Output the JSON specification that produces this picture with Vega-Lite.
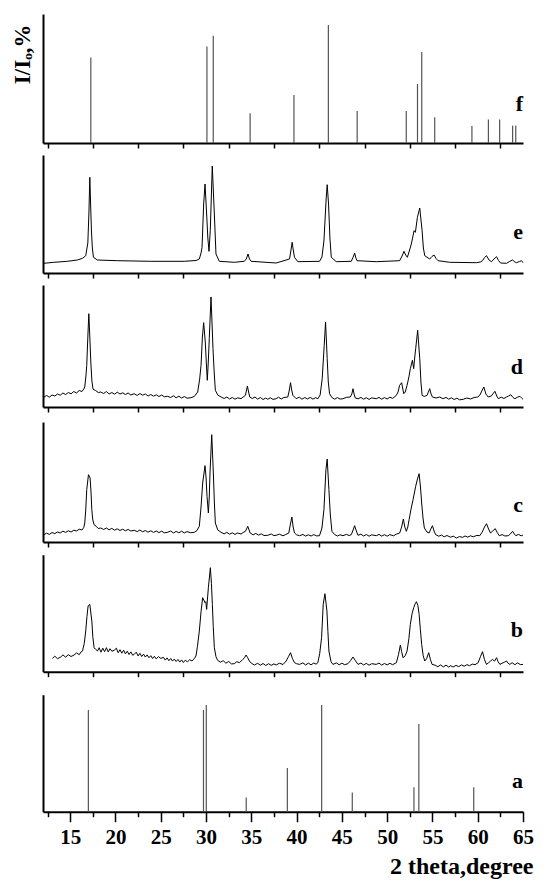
{
  "$schema": "https://vega.github.io/schema/vega-lite/v6.json",
  "padding": {"left": 11, "top": 14, "right": 5, "bottom": 5},
  "config": {
    "view": {"stroke": null},
    "axis": {"domainColor": "black", "domainWidth": 2, "grid": false},
    "axisY": {"ticks": false, "labels": false, "titleFont": "Liberation Serif", "titleFontSize": 23, "titleFontWeight": "bold", "titleColor": "black",
              "titleAngle": 270, "titleAlign": "right", "titleBaseline": "alphabetic", "titleX": -14, "titleY": 10, "titleOpacity": 0},
    "text": {"font": "Liberation Serif", "fontSize": 22, "fontWeight": "bold", "align": "right", "baseline": "alphabetic", "color": "black"}
  },
  "datasets": {
    "f": [
      {"theta": 17.28, "I": 85.4}, {"theta": 30.1, "I": 96.5}, {"theta": 30.8, "I": 107.2},
      {"theta": 34.87, "I": 29.8}, {"theta": 39.71, "I": 47.9}, {"theta": 43.51, "I": 117.9},
      {"theta": 46.69, "I": 32.1}, {"theta": 52.11, "I": 32.1}, {"theta": 53.35, "I": 59},
      {"theta": 53.82, "I": 91.1}, {"theta": 55.25, "I": 25.8}, {"theta": 59.36, "I": 17},
      {"theta": 61.18, "I": 23.5}, {"theta": 62.42, "I": 23.5}, {"theta": 63.85, "I": 17.4},
      {"theta": 64.2, "I": 17.4}
    ],
    "a": [
      {"theta": 17.01, "I": 101.7}, {"theta": 29.72, "I": 101.7}, {"theta": 30.03, "I": 106.7},
      {"theta": 34.44, "I": 14.3}, {"theta": 38.98, "I": 43.7}, {"theta": 42.77, "I": 106.7},
      {"theta": 46.15, "I": 19.3}, {"theta": 52.96, "I": 24.4}, {"theta": 53.5, "I": 87.7},
      {"theta": 59.56, "I": 24.4}
    ],
    "e": [
      {"theta": 12.1, "I": 9.7}, {"theta": 13.2, "I": 10.7}, {"theta": 14.7, "I": 11.7}, {"theta": 15.8, "I": 13},
      {"theta": 16.36, "I": 14.7}, {"theta": 16.72, "I": 17.3}, {"theta": 16.95, "I": 30}, {"theta": 17.07, "I": 60},
      {"theta": 17.17, "I": 95.7}, {"theta": 17.27, "I": 65}, {"theta": 17.35, "I": 42}, {"theta": 17.45, "I": 25},
      {"theta": 17.57, "I": 15.7}, {"theta": 18.0, "I": 13}, {"theta": 20.2, "I": 12.3}, {"theta": 23.9, "I": 11.7},
      {"theta": 27.6, "I": 11.7}, {"theta": 28.9, "I": 12.5}, {"theta": 29.26, "I": 14}, {"theta": 29.45, "I": 20},
      {"theta": 29.56, "I": 25.7}, {"theta": 29.74, "I": 69}, {"theta": 29.89, "I": 89}, {"theta": 30.07, "I": 59},
      {"theta": 30.2, "I": 35}, {"theta": 30.33, "I": 21.7}, {"theta": 30.47, "I": 42.3}, {"theta": 30.69, "I": 107},
      {"theta": 30.92, "I": 59}, {"theta": 31.1, "I": 19}, {"theta": 31.47, "I": 11.7}, {"theta": 33.13, "I": 10.7},
      {"theta": 34.23, "I": 11.7}, {"theta": 34.45, "I": 14}, {"theta": 34.64, "I": 19}, {"theta": 34.8, "I": 14},
      {"theta": 34.98, "I": 11.7}, {"theta": 37.74, "I": 10}, {"theta": 39.22, "I": 14}, {"theta": 39.4, "I": 24},
      {"theta": 39.51, "I": 30.7}, {"theta": 39.65, "I": 22}, {"theta": 39.77, "I": 15.7}, {"theta": 40.14, "I": 11.3},
      {"theta": 42.53, "I": 11.7}, {"theta": 42.8, "I": 16}, {"theta": 43.02, "I": 32}, {"theta": 43.27, "I": 75},
      {"theta": 43.38, "I": 88.3}, {"theta": 43.53, "I": 69}, {"theta": 43.68, "I": 35}, {"theta": 43.83, "I": 15.7},
      {"theta": 44.38, "I": 11.3}, {"theta": 46.04, "I": 11.7}, {"theta": 46.25, "I": 16}, {"theta": 46.41, "I": 20},
      {"theta": 46.55, "I": 15}, {"theta": 46.67, "I": 12.3}, {"theta": 48.8, "I": 11.3}, {"theta": 51.38, "I": 12.3},
      {"theta": 51.65, "I": 17}, {"theta": 51.86, "I": 21.7}, {"theta": 52.05, "I": 18}, {"theta": 52.23, "I": 15.7},
      {"theta": 52.45, "I": 22}, {"theta": 52.67, "I": 29}, {"theta": 52.97, "I": 42.3}, {"theta": 53.12, "I": 40.7},
      {"theta": 53.34, "I": 55.7}, {"theta": 53.6, "I": 65}, {"theta": 53.86, "I": 42.3}, {"theta": 54.0, "I": 25},
      {"theta": 54.15, "I": 17.3}, {"theta": 54.7, "I": 14}, {"theta": 54.95, "I": 16.5}, {"theta": 55.18, "I": 18},
      {"theta": 55.4, "I": 14.5}, {"theta": 55.62, "I": 12.3}, {"theta": 56.91, "I": 10.7}, {"theta": 59.86, "I": 10.3},
      {"theta": 60.3, "I": 11}, {"theta": 60.53, "I": 12.3}, {"theta": 60.75, "I": 15.5}, {"theta": 60.97, "I": 17.3},
      {"theta": 61.25, "I": 13}, {"theta": 61.52, "I": 11.3}, {"theta": 61.8, "I": 14}, {"theta": 62.08, "I": 16.3},
      {"theta": 62.3, "I": 12.5}, {"theta": 62.52, "I": 10}, {"theta": 63.18, "I": 9.7}, {"theta": 63.5, "I": 11.5},
      {"theta": 63.85, "I": 13}, {"theta": 64.1, "I": 11}, {"theta": 64.29, "I": 10.3}, {"theta": 64.6, "I": 11.5},
      {"theta": 64.84, "I": 12.3}, {"theta": 65.0, "I": 10.3}
    ],
    "d": [
      {"theta": 12.1, "I": 10}, {"theta": 12.4, "I": 11.5}, {"theta": 12.7, "I": 9.8}, {"theta": 13.0, "I": 12},
      {"theta": 13.3, "I": 11}, {"theta": 13.6, "I": 13}, {"theta": 13.9, "I": 11.8}, {"theta": 14.2, "I": 14},
      {"theta": 14.5, "I": 12.5}, {"theta": 14.8, "I": 14.5}, {"theta": 15.1, "I": 13.2}, {"theta": 15.4, "I": 15.5},
      {"theta": 15.7, "I": 14}, {"theta": 16.0, "I": 16.5}, {"theta": 16.3, "I": 15.5}, {"theta": 16.5, "I": 18},
      {"theta": 16.61, "I": 20}, {"theta": 16.75, "I": 32}, {"theta": 16.83, "I": 41.7}, {"theta": 16.95, "I": 70},
      {"theta": 17.06, "I": 93.3}, {"theta": 17.17, "I": 70}, {"theta": 17.28, "I": 45}, {"theta": 17.4, "I": 26},
      {"theta": 17.53, "I": 17.7}, {"theta": 17.8, "I": 16.5}, {"theta": 18.1, "I": 14.5}, {"theta": 18.38, "I": 15},
      {"theta": 18.7, "I": 13.5}, {"theta": 19.0, "I": 15.5}, {"theta": 19.3, "I": 13}, {"theta": 19.6, "I": 14.5},
      {"theta": 19.9, "I": 12.8}, {"theta": 20.2, "I": 14.8}, {"theta": 20.5, "I": 13}, {"theta": 20.8, "I": 14.2},
      {"theta": 21.1, "I": 12.5}, {"theta": 21.4, "I": 14}, {"theta": 21.7, "I": 12}, {"theta": 22.07, "I": 13.3},
      {"theta": 22.4, "I": 11.5}, {"theta": 22.7, "I": 13.5}, {"theta": 23.0, "I": 11.8}, {"theta": 23.3, "I": 13},
      {"theta": 23.6, "I": 11}, {"theta": 23.9, "I": 12.5}, {"theta": 24.2, "I": 10.8}, {"theta": 24.5, "I": 12.2},
      {"theta": 24.8, "I": 10.5}, {"theta": 25.1, "I": 12}, {"theta": 25.4, "I": 10.2}, {"theta": 25.76, "I": 10.7},
      {"theta": 26.1, "I": 9.5}, {"theta": 26.4, "I": 11.2}, {"theta": 26.7, "I": 9.2}, {"theta": 27.0, "I": 10.8},
      {"theta": 27.3, "I": 9}, {"theta": 27.6, "I": 10.5}, {"theta": 27.9, "I": 8.8}, {"theta": 28.34, "I": 9.3},
      {"theta": 28.7, "I": 10.5}, {"theta": 29.08, "I": 15}, {"theta": 29.3, "I": 28}, {"theta": 29.45, "I": 41.7},
      {"theta": 29.6, "I": 70}, {"theta": 29.74, "I": 84.3}, {"theta": 29.92, "I": 65}, {"theta": 30.03, "I": 45},
      {"theta": 30.14, "I": 26.7}, {"theta": 30.25, "I": 45}, {"theta": 30.36, "I": 68.3}, {"theta": 30.55, "I": 110},
      {"theta": 30.66, "I": 85}, {"theta": 30.77, "I": 58.3}, {"theta": 30.9, "I": 35}, {"theta": 31.03, "I": 16.7},
      {"theta": 31.3, "I": 12}, {"theta": 31.66, "I": 10}, {"theta": 32.0, "I": 8.5}, {"theta": 32.3, "I": 10},
      {"theta": 32.6, "I": 8}, {"theta": 32.9, "I": 9.5}, {"theta": 33.2, "I": 7.8}, {"theta": 33.5, "I": 9.2},
      {"theta": 33.87, "I": 8.3}, {"theta": 34.1, "I": 10}, {"theta": 34.35, "I": 11.7}, {"theta": 34.57, "I": 21},
      {"theta": 34.7, "I": 15}, {"theta": 34.83, "I": 10}, {"theta": 35.1, "I": 8.5}, {"theta": 35.4, "I": 10},
      {"theta": 35.7, "I": 7.8}, {"theta": 36.0, "I": 9.5}, {"theta": 36.3, "I": 7.5}, {"theta": 36.6, "I": 9},
      {"theta": 36.82, "I": 7.7}, {"theta": 37.1, "I": 9.2}, {"theta": 37.4, "I": 7.6}, {"theta": 37.74, "I": 8.3},
      {"theta": 38.0, "I": 9.8}, {"theta": 38.3, "I": 8}, {"theta": 38.6, "I": 9.5}, {"theta": 39.03, "I": 10},
      {"theta": 39.18, "I": 16}, {"theta": 39.33, "I": 24.3}, {"theta": 39.46, "I": 17}, {"theta": 39.59, "I": 11.7},
      {"theta": 39.95, "I": 8.3}, {"theta": 40.3, "I": 9.8}, {"theta": 40.6, "I": 7.8}, {"theta": 40.9, "I": 9.5},
      {"theta": 41.2, "I": 8}, {"theta": 41.5, "I": 9.6}, {"theta": 41.8, "I": 7.9}, {"theta": 42.1, "I": 9.3},
      {"theta": 42.35, "I": 8.3}, {"theta": 42.6, "I": 12}, {"theta": 42.83, "I": 28.3}, {"theta": 43.05, "I": 61.7},
      {"theta": 43.2, "I": 85}, {"theta": 43.38, "I": 48.3}, {"theta": 43.5, "I": 25}, {"theta": 43.64, "I": 13.3},
      {"theta": 43.9, "I": 9.5}, {"theta": 44.2, "I": 7.8}, {"theta": 44.5, "I": 9.4}, {"theta": 44.8, "I": 7.9},
      {"theta": 45.12, "I": 8.3}, {"theta": 45.5, "I": 9.6}, {"theta": 45.93, "I": 10}, {"theta": 46.1, "I": 13},
      {"theta": 46.23, "I": 18.3}, {"theta": 46.35, "I": 13}, {"theta": 46.48, "I": 9}, {"theta": 46.8, "I": 8.2},
      {"theta": 47.1, "I": 9.6}, {"theta": 47.4, "I": 7.8}, {"theta": 47.7, "I": 9.3}, {"theta": 48.0, "I": 7.6},
      {"theta": 48.3, "I": 9.1}, {"theta": 48.8, "I": 8.3}, {"theta": 49.1, "I": 9.6}, {"theta": 49.4, "I": 7.8},
      {"theta": 49.7, "I": 9.4}, {"theta": 50.0, "I": 8}, {"theta": 50.3, "I": 9.8}, {"theta": 50.6, "I": 8.6},
      {"theta": 51.02, "I": 11.7}, {"theta": 51.2, "I": 15}, {"theta": 51.38, "I": 21.7}, {"theta": 51.6, "I": 24.3},
      {"theta": 51.83, "I": 13.3}, {"theta": 52.0, "I": 15}, {"theta": 52.2, "I": 21.7}, {"theta": 52.4, "I": 30},
      {"theta": 52.56, "I": 38.3}, {"theta": 52.79, "I": 46.7}, {"theta": 52.93, "I": 38.3}, {"theta": 53.05, "I": 50},
      {"theta": 53.15, "I": 58.3}, {"theta": 53.37, "I": 76.7}, {"theta": 53.6, "I": 48.3}, {"theta": 53.73, "I": 25},
      {"theta": 53.86, "I": 11.7}, {"theta": 54.1, "I": 10.5}, {"theta": 54.41, "I": 11.7}, {"theta": 54.55, "I": 15},
      {"theta": 54.7, "I": 18.3}, {"theta": 54.85, "I": 13}, {"theta": 55.0, "I": 10}, {"theta": 55.4, "I": 9},
      {"theta": 55.8, "I": 10}, {"theta": 56.18, "I": 8.3}, {"theta": 56.5, "I": 9.6}, {"theta": 56.8, "I": 7.8},
      {"theta": 57.1, "I": 9.2}, {"theta": 57.4, "I": 7.5}, {"theta": 57.7, "I": 8.8}, {"theta": 58.0, "I": 7.2},
      {"theta": 58.4, "I": 7.7}, {"theta": 58.8, "I": 9}, {"theta": 59.2, "I": 8}, {"theta": 59.6, "I": 9.5},
      {"theta": 60.0, "I": 10}, {"theta": 60.23, "I": 11.7}, {"theta": 60.45, "I": 16}, {"theta": 60.68, "I": 20},
      {"theta": 60.9, "I": 13}, {"theta": 61.16, "I": 10}, {"theta": 61.5, "I": 11}, {"theta": 61.75, "I": 14},
      {"theta": 61.9, "I": 15.7}, {"theta": 62.1, "I": 11}, {"theta": 62.27, "I": 8.3}, {"theta": 62.6, "I": 9.8},
      {"theta": 62.9, "I": 8.5}, {"theta": 63.18, "I": 10}, {"theta": 63.4, "I": 11}, {"theta": 63.66, "I": 12.3},
      {"theta": 63.9, "I": 9.5}, {"theta": 64.1, "I": 8.3}, {"theta": 64.4, "I": 9.8}, {"theta": 64.66, "I": 10.7},
      {"theta": 64.9, "I": 8.5}, {"theta": 65.0, "I": 7.7}
    ],
    "c": [
      {"theta": 12.1, "I": 7.3}, {"theta": 12.4, "I": 8.8}, {"theta": 12.7, "I": 7.6}, {"theta": 13.0, "I": 9.5},
      {"theta": 13.3, "I": 8.4}, {"theta": 13.6, "I": 10}, {"theta": 13.9, "I": 9}, {"theta": 14.2, "I": 10.8},
      {"theta": 14.5, "I": 9.6}, {"theta": 14.8, "I": 11.2}, {"theta": 15.1, "I": 10}, {"theta": 15.4, "I": 11.8},
      {"theta": 15.7, "I": 11}, {"theta": 16.0, "I": 12.8}, {"theta": 16.3, "I": 12}, {"theta": 16.5, "I": 14.5},
      {"theta": 16.61, "I": 19}, {"theta": 16.72, "I": 32}, {"theta": 16.83, "I": 52.3}, {"theta": 17.02, "I": 67.3},
      {"theta": 17.2, "I": 64}, {"theta": 17.3, "I": 50}, {"theta": 17.39, "I": 32.3}, {"theta": 17.5, "I": 22},
      {"theta": 17.64, "I": 17.3}, {"theta": 17.9, "I": 15.5}, {"theta": 18.1, "I": 13.5}, {"theta": 18.38, "I": 14},
      {"theta": 18.7, "I": 12.5}, {"theta": 19.0, "I": 14}, {"theta": 19.3, "I": 12.2}, {"theta": 19.6, "I": 13.6},
      {"theta": 19.9, "I": 11.8}, {"theta": 20.2, "I": 13.2}, {"theta": 20.5, "I": 11.5}, {"theta": 20.8, "I": 12.8},
      {"theta": 21.1, "I": 11.2}, {"theta": 21.4, "I": 12.6}, {"theta": 21.7, "I": 11}, {"theta": 22.07, "I": 11.7},
      {"theta": 22.4, "I": 10.4}, {"theta": 22.7, "I": 12}, {"theta": 23.0, "I": 10.2}, {"theta": 23.3, "I": 11.5},
      {"theta": 23.6, "I": 9.8}, {"theta": 23.9, "I": 11.2}, {"theta": 24.2, "I": 9.6}, {"theta": 24.5, "I": 11},
      {"theta": 24.8, "I": 9.4}, {"theta": 25.1, "I": 10.8}, {"theta": 25.4, "I": 9.2}, {"theta": 25.76, "I": 9.7},
      {"theta": 26.1, "I": 11}, {"theta": 26.4, "I": 9}, {"theta": 26.7, "I": 10.6}, {"theta": 27.0, "I": 9.2},
      {"theta": 27.3, "I": 10.8}, {"theta": 27.6, "I": 9.1}, {"theta": 27.9, "I": 10.4}, {"theta": 28.3, "I": 9.3},
      {"theta": 28.71, "I": 9.7}, {"theta": 29.0, "I": 11.5}, {"theta": 29.26, "I": 15.7}, {"theta": 29.45, "I": 35},
      {"theta": 29.63, "I": 59}, {"theta": 29.89, "I": 76.3}, {"theta": 30.0, "I": 65}, {"theta": 30.11, "I": 45.7},
      {"theta": 30.26, "I": 29}, {"theta": 30.36, "I": 45}, {"theta": 30.44, "I": 69}, {"theta": 30.63, "I": 107.3},
      {"theta": 30.81, "I": 69}, {"theta": 30.92, "I": 40}, {"theta": 31.03, "I": 19}, {"theta": 31.3, "I": 12},
      {"theta": 31.66, "I": 9.7}, {"theta": 32.0, "I": 8.2}, {"theta": 32.3, "I": 9.6}, {"theta": 32.6, "I": 7.8},
      {"theta": 32.9, "I": 9.2}, {"theta": 33.2, "I": 7.6}, {"theta": 33.5, "I": 9}, {"theta": 33.87, "I": 8},
      {"theta": 34.1, "I": 9.5}, {"theta": 34.35, "I": 10.7}, {"theta": 34.61, "I": 15.7}, {"theta": 34.87, "I": 9},
      {"theta": 35.2, "I": 7.2}, {"theta": 35.5, "I": 8.6}, {"theta": 35.8, "I": 6.8}, {"theta": 36.1, "I": 8.2},
      {"theta": 36.4, "I": 6.5}, {"theta": 36.82, "I": 6.7}, {"theta": 37.2, "I": 8}, {"theta": 37.5, "I": 6.4},
      {"theta": 37.74, "I": 6.7}, {"theta": 38.1, "I": 7.8}, {"theta": 38.5, "I": 6.2}, {"theta": 38.8, "I": 7.5},
      {"theta": 39.14, "I": 9}, {"theta": 39.3, "I": 17}, {"theta": 39.48, "I": 25}, {"theta": 39.62, "I": 15},
      {"theta": 39.77, "I": 9}, {"theta": 40.0, "I": 7.2}, {"theta": 40.32, "I": 6.3}, {"theta": 40.7, "I": 7.5},
      {"theta": 41.0, "I": 5.9}, {"theta": 41.3, "I": 7.2}, {"theta": 41.6, "I": 6}, {"theta": 41.9, "I": 7.4},
      {"theta": 42.2, "I": 6.1}, {"theta": 42.53, "I": 6.3}, {"theta": 42.8, "I": 14}, {"theta": 43.02, "I": 32.3},
      {"theta": 43.24, "I": 72.3}, {"theta": 43.38, "I": 83}, {"theta": 43.57, "I": 52.3}, {"theta": 43.72, "I": 28},
      {"theta": 43.9, "I": 10.7}, {"theta": 44.2, "I": 7.5}, {"theta": 44.5, "I": 6}, {"theta": 44.8, "I": 7.2},
      {"theta": 45.12, "I": 6.3}, {"theta": 45.5, "I": 7.6}, {"theta": 45.8, "I": 6.5}, {"theta": 46.04, "I": 7.3},
      {"theta": 46.2, "I": 11}, {"theta": 46.41, "I": 16.3}, {"theta": 46.6, "I": 11}, {"theta": 46.78, "I": 6.7},
      {"theta": 47.1, "I": 7.8}, {"theta": 47.4, "I": 6}, {"theta": 47.7, "I": 7.5}, {"theta": 48.0, "I": 5.8},
      {"theta": 48.3, "I": 7.2}, {"theta": 48.8, "I": 6.3}, {"theta": 49.1, "I": 7.6}, {"theta": 49.4, "I": 5.9},
      {"theta": 49.7, "I": 7.3}, {"theta": 50.0, "I": 5.8}, {"theta": 50.3, "I": 7.4}, {"theta": 50.7, "I": 6.2},
      {"theta": 51.0, "I": 7.8}, {"theta": 51.38, "I": 9}, {"theta": 51.6, "I": 15}, {"theta": 51.79, "I": 23},
      {"theta": 51.95, "I": 15}, {"theta": 52.12, "I": 10.7}, {"theta": 52.28, "I": 15}, {"theta": 52.42, "I": 22.3},
      {"theta": 52.64, "I": 33}, {"theta": 52.86, "I": 42.3}, {"theta": 53.15, "I": 55.7}, {"theta": 53.35, "I": 63},
      {"theta": 53.53, "I": 68.3}, {"theta": 53.68, "I": 55}, {"theta": 53.81, "I": 39}, {"theta": 53.96, "I": 24},
      {"theta": 54.11, "I": 14}, {"theta": 54.4, "I": 10}, {"theta": 54.63, "I": 9}, {"theta": 54.82, "I": 13},
      {"theta": 55.0, "I": 16.3}, {"theta": 55.18, "I": 11}, {"theta": 55.36, "I": 7.3}, {"theta": 55.7, "I": 5.8},
      {"theta": 56.0, "I": 6.9}, {"theta": 56.3, "I": 5.2}, {"theta": 56.6, "I": 6.5}, {"theta": 57.0, "I": 4.8},
      {"theta": 57.3, "I": 5.8}, {"theta": 57.65, "I": 4}, {"theta": 58.0, "I": 5.5}, {"theta": 58.3, "I": 4.6},
      {"theta": 58.6, "I": 6}, {"theta": 58.9, "I": 4.9}, {"theta": 59.2, "I": 6.2}, {"theta": 59.5, "I": 5.2},
      {"theta": 59.9, "I": 6.6}, {"theta": 60.23, "I": 6.3}, {"theta": 60.5, "I": 10}, {"theta": 60.75, "I": 15},
      {"theta": 60.97, "I": 18.3}, {"theta": 61.2, "I": 13}, {"theta": 61.41, "I": 9}, {"theta": 61.65, "I": 11},
      {"theta": 61.94, "I": 13.3}, {"theta": 62.15, "I": 9.5}, {"theta": 62.38, "I": 6.3}, {"theta": 62.7, "I": 7.4},
      {"theta": 63.0, "I": 6}, {"theta": 63.37, "I": 6.3}, {"theta": 63.6, "I": 8}, {"theta": 63.85, "I": 10.7},
      {"theta": 64.05, "I": 8}, {"theta": 64.21, "I": 6.3}, {"theta": 64.5, "I": 7.6}, {"theta": 64.8, "I": 6.2},
      {"theta": 65.0, "I": 7}
    ],
    "b": [
      {"theta": 13.04, "I": 13.3}, {"theta": 13.3, "I": 15.5}, {"theta": 13.6, "I": 13}, {"theta": 13.96, "I": 14.7},
      {"theta": 14.2, "I": 16.8}, {"theta": 14.5, "I": 14.5}, {"theta": 14.8, "I": 17}, {"theta": 15.1, "I": 15.2},
      {"theta": 15.43, "I": 16.7}, {"theta": 15.7, "I": 18.8}, {"theta": 16.0, "I": 17}, {"theta": 16.2, "I": 19.8},
      {"theta": 16.36, "I": 20.7}, {"theta": 16.55, "I": 28}, {"theta": 16.72, "I": 40.7}, {"theta": 16.85, "I": 55},
      {"theta": 16.98, "I": 65.7}, {"theta": 17.17, "I": 67.3}, {"theta": 17.39, "I": 50.7}, {"theta": 17.5, "I": 35},
      {"theta": 17.64, "I": 24}, {"theta": 17.8, "I": 22.5}, {"theta": 18.02, "I": 20.7}, {"theta": 18.2, "I": 24},
      {"theta": 18.4, "I": 19.5}, {"theta": 18.6, "I": 23.5}, {"theta": 18.8, "I": 20}, {"theta": 19.0, "I": 24},
      {"theta": 19.2, "I": 19.8}, {"theta": 19.4, "I": 23}, {"theta": 19.6, "I": 20.5}, {"theta": 19.85, "I": 21.3},
      {"theta": 20.1, "I": 23.5}, {"theta": 20.3, "I": 19}, {"theta": 20.5, "I": 22}, {"theta": 20.7, "I": 18.5},
      {"theta": 20.9, "I": 21.5}, {"theta": 21.1, "I": 17.8}, {"theta": 21.3, "I": 20.5}, {"theta": 21.5, "I": 17.2},
      {"theta": 21.7, "I": 19.8}, {"theta": 21.9, "I": 16.5}, {"theta": 22.07, "I": 17.3}, {"theta": 22.3, "I": 19.5},
      {"theta": 22.5, "I": 15.8}, {"theta": 22.7, "I": 18.4}, {"theta": 22.9, "I": 15.2}, {"theta": 23.1, "I": 17.6},
      {"theta": 23.3, "I": 14.6}, {"theta": 23.5, "I": 16.8}, {"theta": 23.7, "I": 14}, {"theta": 23.9, "I": 16},
      {"theta": 24.1, "I": 13.2}, {"theta": 24.3, "I": 15.4}, {"theta": 24.5, "I": 12.8}, {"theta": 24.75, "I": 15},
      {"theta": 25.02, "I": 13.3}, {"theta": 25.3, "I": 14.4}, {"theta": 25.5, "I": 11.6}, {"theta": 25.7, "I": 13.8},
      {"theta": 25.9, "I": 11}, {"theta": 26.1, "I": 13.2}, {"theta": 26.3, "I": 10.6}, {"theta": 26.5, "I": 12.6},
      {"theta": 26.7, "I": 10.2}, {"theta": 26.9, "I": 12.2}, {"theta": 27.1, "I": 9.6}, {"theta": 27.3, "I": 11.8},
      {"theta": 27.5, "I": 9.2}, {"theta": 27.7, "I": 11.4}, {"theta": 27.97, "I": 10}, {"theta": 28.2, "I": 12},
      {"theta": 28.45, "I": 10.8}, {"theta": 28.7, "I": 13}, {"theta": 28.89, "I": 15.7}, {"theta": 29.05, "I": 25},
      {"theta": 29.26, "I": 40.7}, {"theta": 29.45, "I": 60}, {"theta": 29.63, "I": 74}, {"theta": 29.89, "I": 69},
      {"theta": 29.98, "I": 70}, {"theta": 30.07, "I": 62.3}, {"theta": 30.26, "I": 84}, {"theta": 30.48, "I": 104},
      {"theta": 30.6, "I": 88}, {"theta": 30.7, "I": 67.3}, {"theta": 30.8, "I": 45}, {"theta": 30.92, "I": 24},
      {"theta": 31.1, "I": 15}, {"theta": 31.29, "I": 11.3}, {"theta": 31.6, "I": 9.5}, {"theta": 31.9, "I": 11},
      {"theta": 32.2, "I": 8.5}, {"theta": 32.5, "I": 10.2}, {"theta": 32.8, "I": 7.8}, {"theta": 33.13, "I": 8},
      {"theta": 33.4, "I": 10}, {"theta": 33.7, "I": 9}, {"theta": 34.06, "I": 12.3}, {"theta": 34.25, "I": 14},
      {"theta": 34.42, "I": 16.7}, {"theta": 34.6, "I": 14}, {"theta": 34.79, "I": 10.7}, {"theta": 35.0, "I": 8.5},
      {"theta": 35.34, "I": 6.7}, {"theta": 35.7, "I": 8.4}, {"theta": 36.0, "I": 6.5}, {"theta": 36.3, "I": 8.2},
      {"theta": 36.6, "I": 6.2}, {"theta": 36.9, "I": 8}, {"theta": 37.2, "I": 6.4}, {"theta": 37.5, "I": 7.8},
      {"theta": 37.74, "I": 6.7}, {"theta": 38.1, "I": 8.5}, {"theta": 38.5, "I": 7.2}, {"theta": 38.85, "I": 10.7},
      {"theta": 39.1, "I": 15}, {"theta": 39.33, "I": 19}, {"theta": 39.55, "I": 13}, {"theta": 39.77, "I": 9},
      {"theta": 40.0, "I": 8}, {"theta": 40.32, "I": 7.3}, {"theta": 40.7, "I": 8.8}, {"theta": 41.0, "I": 6.8},
      {"theta": 41.3, "I": 8.5}, {"theta": 41.6, "I": 6.9}, {"theta": 41.9, "I": 8.7}, {"theta": 42.15, "I": 7.5},
      {"theta": 42.35, "I": 9}, {"theta": 42.55, "I": 18}, {"theta": 42.76, "I": 34}, {"theta": 42.94, "I": 67.3},
      {"theta": 43.13, "I": 78}, {"theta": 43.35, "I": 60.7}, {"theta": 43.46, "I": 40}, {"theta": 43.57, "I": 20.7},
      {"theta": 43.8, "I": 10}, {"theta": 44.01, "I": 7.3}, {"theta": 44.4, "I": 8.8}, {"theta": 44.7, "I": 6.9},
      {"theta": 45.0, "I": 8.5}, {"theta": 45.3, "I": 7}, {"theta": 45.67, "I": 8}, {"theta": 45.95, "I": 11},
      {"theta": 46.23, "I": 14.7}, {"theta": 46.5, "I": 11}, {"theta": 46.78, "I": 7.3}, {"theta": 47.1, "I": 8.6},
      {"theta": 47.4, "I": 6.8}, {"theta": 47.7, "I": 8.3}, {"theta": 48.0, "I": 6.5}, {"theta": 48.3, "I": 8},
      {"theta": 48.8, "I": 7.3}, {"theta": 49.1, "I": 8.6}, {"theta": 49.4, "I": 6.6}, {"theta": 49.7, "I": 8.2},
      {"theta": 50.0, "I": 6.8}, {"theta": 50.3, "I": 8.4}, {"theta": 50.6, "I": 7}, {"theta": 51.02, "I": 9},
      {"theta": 51.25, "I": 17}, {"theta": 51.46, "I": 26.7}, {"theta": 51.6, "I": 20}, {"theta": 51.75, "I": 14},
      {"theta": 52.0, "I": 16}, {"theta": 52.2, "I": 20.7}, {"theta": 52.4, "I": 33}, {"theta": 52.56, "I": 47.3},
      {"theta": 52.75, "I": 58}, {"theta": 52.93, "I": 64}, {"theta": 53.1, "I": 68}, {"theta": 53.23, "I": 70},
      {"theta": 53.4, "I": 66}, {"theta": 53.53, "I": 57.3}, {"theta": 53.67, "I": 42}, {"theta": 53.81, "I": 27.3},
      {"theta": 53.98, "I": 16}, {"theta": 54.15, "I": 10.7}, {"theta": 54.35, "I": 13}, {"theta": 54.59, "I": 19},
      {"theta": 54.78, "I": 12}, {"theta": 54.96, "I": 7.3}, {"theta": 55.3, "I": 6.5}, {"theta": 55.6, "I": 5},
      {"theta": 55.9, "I": 6.8}, {"theta": 56.2, "I": 4.8}, {"theta": 56.5, "I": 6.5}, {"theta": 56.8, "I": 4.6},
      {"theta": 57.0, "I": 6}, {"theta": 57.29, "I": 4.7}, {"theta": 57.6, "I": 6.3}, {"theta": 57.9, "I": 5},
      {"theta": 58.2, "I": 6.8}, {"theta": 58.5, "I": 5.4}, {"theta": 58.8, "I": 7}, {"theta": 59.1, "I": 6},
      {"theta": 59.4, "I": 7.6}, {"theta": 59.7, "I": 7}, {"theta": 60.05, "I": 9}, {"theta": 60.3, "I": 15},
      {"theta": 60.53, "I": 20}, {"theta": 60.75, "I": 12}, {"theta": 60.97, "I": 7.3}, {"theta": 61.2, "I": 9},
      {"theta": 61.4, "I": 10.5}, {"theta": 61.64, "I": 12.3}, {"theta": 61.85, "I": 10.5}, {"theta": 62.08, "I": 14},
      {"theta": 62.25, "I": 10}, {"theta": 62.45, "I": 7.3}, {"theta": 62.7, "I": 8.5}, {"theta": 62.95, "I": 9.5},
      {"theta": 63.18, "I": 10.7}, {"theta": 63.35, "I": 8.5}, {"theta": 63.55, "I": 7.3}, {"theta": 63.8, "I": 9},
      {"theta": 64.1, "I": 7}, {"theta": 64.4, "I": 8.8}, {"theta": 64.7, "I": 7.1}, {"theta": 65.0, "I": 7.3}
    ]
  },
  "spacing": 6.7,
  "vconcat": [
    {
      "spacing": 9,
      "vconcat": [
        {
          "spacing": 6,
          "vconcat": [
            {
              "width": 480, "height": 129,
              "layer": [
                {"data": {"name": "f"}, "mark": {"type": "rule", "color": "#555555", "strokeWidth": 1.2},
                 "encoding": {
                   "x": {"field": "theta", "type": "quantitative", "scale": {"domain": [12, 65], "nice": false, "zero": false},
                         "axis": {"values": [12.5, 15, 17.5, 20, 22.5, 25, 27.5, 30, 32.5, 35, 37.5, 40, 42.5, 45, 47.5, 50, 52.5, 55, 57.5, 60, 62.5, 65], "labels": false, "title": null, "tickColor": "black", "tickWidth": 1.5, "tickSize": {"condition": {"test": "datum.value % 5 === 0", "value": 10}, "value": 5}}},
                   "y": {"field": "I", "type": "quantitative", "scale": {"domain": [0, 129], "nice": false}, "axis": {"title": "I/Iₒ,%", "titleOpacity": 1}},
                   "y2": {"datum": 0}
                 }},
                {"data": {"values": [{"label": "f"}]}, "mark": "text",
                 "encoding": {"x": {"datum": 65, "type": "quantitative"}, "y": {"datum": 32, "type": "quantitative"}, "text": {"field": "label"}}}
              ]
            },
            {
              "width": 480, "height": 118,
              "layer": [
                {"data": {"name": "e"}, "mark": {"type": "line", "color": "black", "strokeWidth": 1},
                 "encoding": {
                   "x": {"field": "theta", "type": "quantitative", "scale": {"domain": [12, 65], "nice": false, "zero": false},
                         "axis": {"values": [12.5, 15, 17.5, 20, 22.5, 25, 27.5, 30, 32.5, 35, 37.5, 40, 42.5, 45, 47.5, 50, 52.5, 55, 57.5, 60, 62.5, 65], "labels": false, "title": null, "tickColor": "black", "tickWidth": 1.5, "tickSize": {"condition": {"test": "datum.value % 5 === 0", "value": 10}, "value": 5}}},
                   "y": {"field": "I", "type": "quantitative", "scale": {"domain": [0, 118], "nice": false}, "axis": {"title": "I/Iₒ,%"}}
                 }},
                {"data": {"values": [{"label": "e"}]}, "mark": "text",
                 "encoding": {"x": {"datum": 65, "type": "quantitative"}, "y": {"datum": 34, "type": "quantitative"}, "text": {"field": "label"}}}
              ]
            },
            {
              "width": 480, "height": 122,
              "layer": [
                {"data": {"name": "d"}, "mark": {"type": "line", "color": "black", "strokeWidth": 1},
                 "encoding": {
                   "x": {"field": "theta", "type": "quantitative", "scale": {"domain": [12, 65], "nice": false, "zero": false},
                         "axis": {"values": [12.5, 15, 17.5, 20, 22.5, 25, 27.5, 30, 32.5, 35, 37.5, 40, 42.5, 45, 47.5, 50, 52.5, 55, 57.5, 60, 62.5, 65], "labels": false, "title": null, "tickColor": "black", "tickWidth": 1.5, "tickSize": {"condition": {"test": "datum.value % 5 === 0", "value": 10}, "value": 5}}},
                   "y": {"field": "I", "type": "quantitative", "scale": {"domain": [0, 122], "nice": false}, "axis": {"title": "I/Iₒ,%"}}
                 }},
                {"data": {"values": [{"label": "d"}]}, "mark": "text",
                 "encoding": {"x": {"datum": 65, "type": "quantitative"}, "y": {"datum": 33, "type": "quantitative"}, "text": {"field": "label"}}}
              ]
            }
          ]
        },
        {
          "width": 480, "height": 120,
          "layer": [
            {"data": {"name": "c"}, "mark": {"type": "line", "color": "black", "strokeWidth": 1},
             "encoding": {
               "x": {"field": "theta", "type": "quantitative", "scale": {"domain": [12, 65], "nice": false, "zero": false},
                     "axis": {"values": [12.5, 15, 17.5, 20, 22.5, 25, 27.5, 30, 32.5, 35, 37.5, 40, 42.5, 45, 47.5, 50, 52.5, 55, 57.5, 60, 62.5, 65], "labels": false, "title": null, "tickColor": "black", "tickWidth": 1.5, "tickSize": {"condition": {"test": "datum.value % 5 === 0", "value": 10}, "value": 5}}},
               "y": {"field": "I", "type": "quantitative", "scale": {"domain": [0, 120], "nice": false}, "axis": {"title": "I/Iₒ,%"}}
             }},
            {"data": {"values": [{"label": "c"}]}, "mark": "text",
             "encoding": {"x": {"datum": 65, "type": "quantitative"}, "y": {"datum": 30, "type": "quantitative"}, "text": {"field": "label"}}}
          ]
        }
      ]
    },
    {
      "spacing": 17,
      "vconcat": [
        {
          "width": 480, "height": 117,
          "layer": [
            {"data": {"name": "b"}, "mark": {"type": "line", "color": "black", "strokeWidth": 1},
             "encoding": {
               "x": {"field": "theta", "type": "quantitative", "scale": {"domain": [12, 65], "nice": false, "zero": false},
                     "axis": {"values": [12.5, 15, 17.5, 20, 22.5, 25, 27.5, 30, 32.5, 35, 37.5, 40, 42.5, 45, 47.5, 50, 52.5, 55, 57.5, 60, 62.5, 65], "labels": false, "title": null, "tickColor": "black", "tickWidth": 1.5, "tickSize": {"condition": {"test": "datum.value % 5 === 0", "value": 10}, "value": 5}}},
               "y": {"field": "I", "type": "quantitative", "scale": {"domain": [0, 117], "nice": false}, "axis": {"title": "I/Iₒ,%"}}
             }},
            {"data": {"values": [{"label": "b"}]}, "mark": "text",
             "encoding": {"x": {"datum": 65, "type": "quantitative"}, "y": {"datum": 34.7, "type": "quantitative"}, "text": {"field": "label"}}}
          ]
        },
        {
          "width": 480, "height": 117,
          "resolve": {"axis": {"x": "independent"}},
          "layer": [
            {"data": {"name": "a"}, "mark": {"type": "rule", "color": "#555555", "strokeWidth": 1.2},
             "encoding": {
               "x": {"field": "theta", "type": "quantitative", "scale": {"domain": [12, 65], "nice": false, "zero": false},
                     "axis": {"orient": "bottom", "values": [15, 20, 25, 30, 35, 40, 45, 50, 55, 60, 65],
                              "labelFont": "Liberation Serif", "labelFontSize": 21, "labelFontWeight": "bold", "labelColor": "black", "labelPadding": 5, "labelFlush": false, "labelOverlap": false,
                              "title": "2 theta,degree", "titleFont": "Liberation Serif", "titleFontSize": 24, "titleFontWeight": "bold", "titleColor": "black", "titleAnchor": "end", "titleAlign": "right", "titleX": 490, "titlePadding": 7,
                              "tickColor": "black", "tickWidth": 1.5, "tickSize": 10}},
               "y": {"field": "I", "type": "quantitative", "scale": {"domain": [0, 117], "nice": false}, "axis": {"title": "I/Iₒ,%"}},
               "y2": {"datum": 0}
             }},
            {"data": {"values": [{"label": "a"}]}, "mark": "text",
             "encoding": {"x": {"datum": 65, "type": "quantitative",
                                "axis": {"orient": "bottom", "values": [12.5, 17.5, 22.5, 27.5, 32.5, 37.5, 42.5, 47.5, 52.5, 57.5, 62.5], "labels": false, "domain": false, "title": null, "tickColor": "black", "tickWidth": 1.5, "tickSize": 5}},
                          "y": {"datum": 23.4, "type": "quantitative"}, "text": {"field": "label"}}}
          ]
        }
      ]
    }
  ]
}
